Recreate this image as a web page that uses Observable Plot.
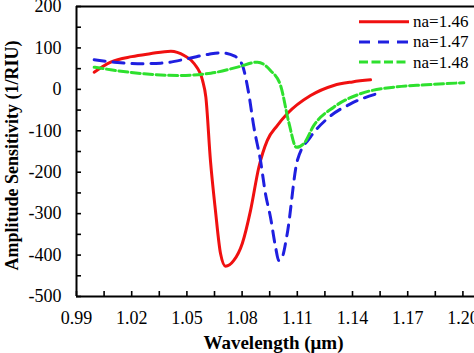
<!DOCTYPE html>
<html>
<head>
<meta charset="utf-8">
<script src="https://cdn.jsdelivr.net/npm/d3@7"></script>
<script src="https://cdn.jsdelivr.net/npm/@observablehq/plot@0.6"></script>
<style>
  html, body { margin: 0; padding: 0; background: #fff; }
  #wrap { position: relative; width: 474px; height: 353px; overflow: hidden; font-family: "Liberation Serif", "DejaVu Serif", serif; }
  #wrap svg { display: block; }
  #wrap svg text { font-family: "Liberation Serif", "DejaVu Serif", serif; }
  #legend { position: absolute; left: 0; top: 0; pointer-events: none; }
</style>
</head>
<body>
<div id="wrap"></div>
<script>
// Series names
const seriesNames = ["na=1.46", "na=1.47", "na=1.48"];
const seriesColors = ["#f01010", "#1f1fe0", "#2ee02e"];
const seriesDash = [null, "11,8", "9,3.5"];

// na=1.46 (red, solid)
const redLambda = [0.9996, 1.0086, 1.020, 1.030, 1.0413, 1.0485, 1.054, 1.0585, 1.0603, 1.0628, 1.0655, 1.0683, 1.071, 1.0755, 1.0801, 1.0846, 1.0891, 1.0937, 1.0990, 1.1045, 1.1172, 1.1298, 1.140, 1.1498];
const redS      = [41.5,   65.7,   79,    86,    92.2,   81.8,   61.8,  21.5,   -18.8,  -172,   -292,   -397,   -427,  -413,   -372,   -292,   -188,   -123,   -88,    -59,    -15,    9.4,    18,    23];

// na=1.47 (blue, dashed)
const blueLambda = [0.9996, 1.0105, 1.0232, 1.0358, 1.0503, 1.0620, 1.0684, 1.0760, 1.0800, 1.0836, 1.0864, 1.0900, 1.0927, 1.0954, 1.0982, 1.0999, 1.1018, 1.1045, 1.1100, 1.1172, 1.1262, 1.1389, 1.1543];
const blueS      = [71.4,   65.7,   61.8,   63.2,   73.9,   85,     88.3,   80,     60,     -10,    -91,    -172,   -252,   -308,   -381,   -413,   -405,   -349,   -172,   -115,   -71,    -35,    -9];

// na=1.48 (green, short dashes)
const greenLambda = [0.9996, 1.0086, 1.0268, 1.0449, 1.063, 1.0775, 1.0884, 1.0954, 1.1009, 1.1054, 1.1095, 1.1135, 1.119, 1.1298, 1.1443, 1.1625, 1.1800, 1.2005];
const greenS      = [53.6,   47.3,   37.7,   33.5,   39,    53.6,   65.7,   45.6,   9.4,    -80,    -140,   -131,   -87,   -43,    -10.6,  5.3,    11,     16];

// Tick values
const xTicks = [0.99, 1.005, 1.02, 1.035, 1.05, 1.065, 1.08, 1.095, 1.11, 1.125, 1.14, 1.155, 1.17, 1.185, 1.2];
const xTickLabels = ["0.99", "", "1.02", "", "1.05", "", "1.08", "", "1.11", "", "1.14", "", "1.17", "", "1.20"];
const yTicks = [-500, -450, -400, -350, -300, -250, -200, -150, -100, -50, 0, 50, 100, 150, 200];
const yTickLabels = ["-500", "", "-400", "", "-300", "", "-200", "", "-100", "", "0", "", "100", "", "200"];

const xLabel = "Wavelength (\u03bcm)";
const yLabel = "Amplitude Sensitivity (1/RIU)";

const FONT = "Liberation Serif, DejaVu Serif, serif";

const toRows = (L, S, name) => L.map((l, i) => ({lambda: l, s: S[i], name}));
const rows = [
  toRows(redLambda, redS, seriesNames[0]),
  toRows(blueLambda, blueS, seriesNames[1]),
  toRows(greenLambda, greenS, seriesNames[2])
];

const W = 474, H = 353;
const mL = 76, mR = 0, mT = 6, mB = 57;
const frameW = W - mL - mR, frameH = H - mT - mB;
const TICK = 5;

const chart = Plot.plot({
  width: W,
  height: H,
  marginLeft: mL,
  marginRight: mR,
  marginTop: mT,
  marginBottom: mB,
  style: {fontFamily: FONT, fontSize: "18px", color: "#000", background: "#fff", overflow: "visible"},
  x: {domain: [0.99, 1.2063], label: null},
  y: {domain: [-500, 200], label: null},
  marks: [
    Plot.axisX({ticks: xTicks, tickSize: 0, tickPadding: 15, tickFormat: (d) => xTickLabels[xTicks.indexOf(d)], fontSize: 18, fontFamily: FONT, label: null}),
    Plot.axisY({ticks: yTicks, tickSize: 0, tickPadding: 15, tickFormat: (d) => yTickLabels[yTicks.indexOf(d)], fontSize: 18, fontFamily: FONT, label: null}),
    Plot.tickX(xTicks, {x: (d) => d, stroke: "#000", strokeWidth: 1.6, insetTop: frameH - TICK}),
    Plot.tickY(yTicks, {y: (d) => d, stroke: "#000", strokeWidth: 1.6, insetRight: frameW - TICK}),
    ...rows.map((r, k) => Plot.line(r, {
      x: "lambda", y: "s",
      stroke: seriesColors[k],
      strokeWidth: 3,
      strokeDasharray: seriesDash[k],
      curve: "monotone-x"
    })),
    Plot.ruleX([0.99], {stroke: "#000", strokeWidth: 2}),
    Plot.ruleY([-500], {stroke: "#000", strokeWidth: 2}),
    Plot.ruleY([200], {stroke: "#000", strokeWidth: 2}),
    Plot.text([xLabel], {frameAnchor: "bottom", dy: 46, dx: -2, fontWeight: "bold", fontSize: 19, fontFamily: FONT, lineAnchor: "middle"}),
    Plot.text([yLabel], {frameAnchor: "left", textAnchor: "middle", rotate: -90, dx: -64, dy: 4, fontWeight: "bold", fontSize: 18, fontFamily: FONT})
  ]
});
document.getElementById("wrap").appendChild(chart);

// Legend overlay (top right, inside the frame)
const leg = d3.select("#wrap").append("svg")
  .attr("id", "legend").attr("width", W).attr("height", H);
seriesNames.forEach((name, i) => {
  const cy = 21.7 + i * 20.2;
  leg.append("line")
    .attr("x1", 359).attr("x2", 409).attr("y1", cy).attr("y2", cy)
    .attr("stroke", seriesColors[i]).attr("stroke-width", 3)
    .attr("stroke-dasharray", seriesDash[i]);
  leg.append("text")
    .attr("x", 413).attr("y", cy).attr("dy", "0.32em")
    .attr("font-family", FONT)
    .attr("font-size", 17)
    .text(name);
});
</script>
</body>
</html>
